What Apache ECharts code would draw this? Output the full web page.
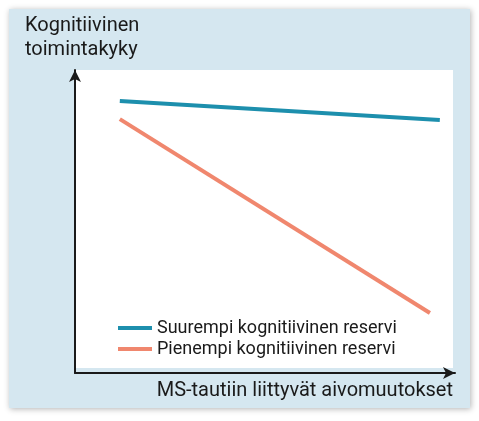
<!DOCTYPE html>
<html><head><meta charset="utf-8">
<script src="https://cdn.jsdelivr.net/npm/echarts@6/dist/echarts.min.js"></script>
<style>html,body{margin:0;padding:0;background:#fff}#c{width:479px;height:421px}</style>
</head><body><div id="c"></div>
<script>
var chart = echarts.init(document.getElementById('c'));
var seriesNames = ['Suurempi kognitiivinen reservi', 'Pienempi kognitiivinen reservi'];
var highReserve = [[11.8, 89.8], [96, 83.5]];
var lowReserve = [[11.8, 83.8], [93.4, 19.8]];
var font = '"Liberation Sans Narrow", Roboto, sans-serif';

chart.setOption({
  animation: false,
  backgroundColor: '#fff',
  graphic: [
    { type: 'rect', z: -10, shape: { x: 9, y: 9, width: 461, height: 399 },
      style: { fill: '#d5e7f0', shadowBlur: 6, shadowColor: 'rgba(0,0,0,0.3)', shadowOffsetX: 1, shadowOffsetY: 1 } },
    { type: 'rect', z: -9, shape: { x: 75, y: 70, width: 378, height: 298 }, style: { fill: '#fff' } },
    { type: 'text', left: 25, top: 14, style: { text: 'Kognitiivinen\ntoimintakyky', font: '20px ' + font, fill: '#1a1a1a', lineHeight: 24 } },
    { type: 'text', right: 26, top: 381, style: { text: 'MS-tautiin liittyvät aivomuutokset', font: '20px ' + font, fill: '#1a1a1a' } }
  ],
  grid: { left: 75, top: 70, right: 24, bottom: 48 },
  legend: {
    orient: 'vertical', left: 113, top: 314, itemGap: 3, itemWidth: 34, itemHeight: 4,
    icon: 'rect', textStyle: { fontFamily: font, fontSize: 18, color: '#1a1a1a' },
    data: seriesNames
  },
  xAxis: {
    type: 'value', min: 0, max: 100,
    axisLine: { lineStyle: { color: '#1a1a1a', width: 2 }, symbol: ['none', 'arrow'], symbolSize: [9, 12] },
    axisTick: { show: false }, axisLabel: { show: false }, splitLine: { show: false }
  },
  yAxis: {
    type: 'value', min: 0, max: 100,
    axisLine: { show: true, lineStyle: { color: '#1a1a1a', width: 2 }, symbol: ['none', 'arrow'], symbolSize: [9, 12] },
    axisTick: { show: false }, axisLabel: { show: false }, splitLine: { show: false }
  },
  series: [
    { name: seriesNames[0], type: 'line', data: highReserve, symbol: 'none', color: '#1d8fad', lineStyle: { width: 4 } },
    { name: seriesNames[1], type: 'line', data: lowReserve, symbol: 'none', color: '#f0876e', lineStyle: { width: 4 } }
  ]
});
</script></body></html>
